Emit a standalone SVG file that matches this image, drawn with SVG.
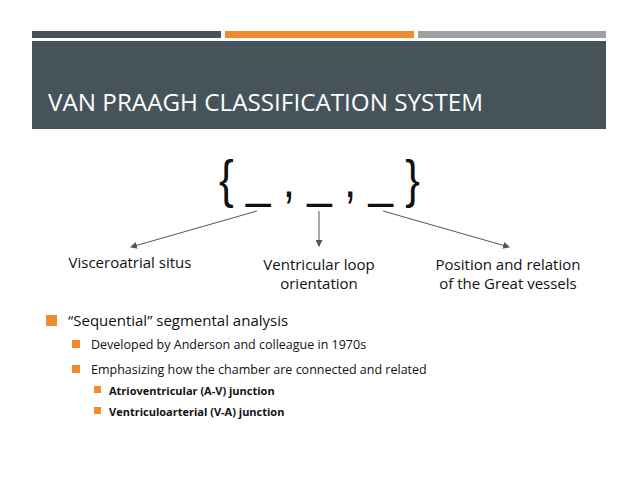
<svg xmlns="http://www.w3.org/2000/svg" width="638" height="478" viewBox="0 0 638 478">
<defs>
<style>
text{font-family:"Open Sans","Liberation Sans",sans-serif;fill:#111}
.lbl{font-size:15px;text-anchor:middle}
.b{fill:#ef8a2e}
.c{stroke:#555;stroke-width:1;fill:none;marker-end:url(#ah)}
</style>
<marker id="ah" markerWidth="7" markerHeight="7" refX="6" refY="3.5" orient="auto" markerUnits="userSpaceOnUse"><path d="M0,0 L7,3.5 L0,7 z" fill="#555"/></marker>
</defs>
<rect width="638" height="478" fill="#fff"/>
<rect x="32" y="31" width="189" height="7" fill="#47535a"/>
<rect x="225" y="31" width="189" height="7" fill="#ef8a2e"/>
<rect x="418" y="31" width="188" height="7" fill="#9ca1a6"/>
<rect x="32" y="41" width="574" height="88" fill="#47535a"/>
<text x="48" y="111" textLength="435" lengthAdjust="spacingAndGlyphs" style="font-size:23px;fill:#fff">VAN PRAAGH CLASSIFICATION SYSTEM</text>
<g id="formula"><text x="219" y="197" textLength="201" lengthAdjust="spacingAndGlyphs" style="font-size:52px;font-family:'Liberation Sans',sans-serif">{ _ , _ , _ }</text></g>
<g id="connectors">
<line class="c" x1="257" y1="211" x2="131" y2="247"/>
<line class="c" x1="319" y1="211" x2="319" y2="246"/>
<line class="c" x1="383" y1="211" x2="509" y2="247"/>
</g>
<g id="n1"><text class="lbl" x="130" y="268">Visceroatrial situs</text></g>
<g id="n2"><text class="lbl" x="319" y="270">Ventricular loop</text><text class="lbl" x="319" y="289">orientation</text></g>
<g id="n3"><text class="lbl" x="508" y="270">Position and relation</text><text class="lbl" x="508" y="289">of the Great vessels</text></g>
<g id="bullets">
<rect class="b" x="46" y="315" width="11" height="11"/>
<text x="68" y="326" style="font-size:15px">“Sequential” segmental analysis</text>
<rect class="b" x="72" y="340" width="8" height="8"/>
<text x="91" y="349" style="font-size:12.5px">Developed by Anderson and colleague in 1970s</text>
<rect class="b" x="72" y="365" width="8" height="8"/>
<text x="91" y="374" style="font-size:12.5px">Emphasizing how the chamber are connected and related</text>
<rect class="b" x="94" y="386" width="7" height="7"/>
<text x="109" y="395" style="font-size:11px;font-weight:bold">Atrioventricular (A-V) junction</text>
<rect class="b" x="94" y="407" width="7" height="7"/>
<text x="109" y="416" style="font-size:11px;font-weight:bold">Ventriculoarterial (V-A) junction</text>
</g>
</svg>
